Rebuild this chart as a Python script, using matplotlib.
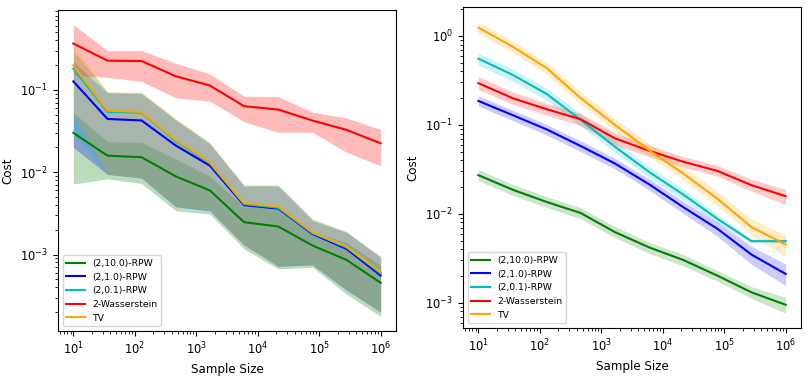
import numpy as np
import matplotlib
matplotlib.use("Agg")
import matplotlib.pyplot as plt

# Sample sizes (shared by both panels)
SAMPLE_SIZES = [10, 35.9, 129, 464, 1668, 5995, 21544, 77426, 278256, 1000000]

LABELS = ["(2,10.0)-RPW", "(2,1.0)-RPW", "(2,0.1)-RPW", "2-Wasserstein", "TV"]
COLORS = ["green", "blue", "c", "red", "orange"]

# Left panel: mean, lower and upper band
L_RPW10 = [0.030, 0.0159, 0.0152, 0.0089, 0.0060, 0.00247, 0.00219, 0.00129, 0.00086, 0.000453]
L_RPW10_LO = [0.0072, 0.0083, 0.0073, 0.0034, 0.0031, 0.00117, 0.00067, 0.0007, 0.00033, 0.000177]
L_RPW10_HI = [0.053, 0.0235, 0.023, 0.0144, 0.0089, 0.0038, 0.0037, 0.0019, 0.0014, 0.00073]

L_RPW1 = [0.127, 0.0444, 0.0425, 0.0211, 0.0120, 0.00397, 0.00362, 0.00178, 0.00117, 0.000556]
L_RPW1_LO = [0.02, 0.0094, 0.0085, 0.0038, 0.0034, 0.0013, 0.00072, 0.00075, 0.00037, 0.0002]
L_RPW1_HI = [0.22, 0.092, 0.090, 0.043, 0.022, 0.0068, 0.0068, 0.0026, 0.00185, 0.00093]

L_RPW01 = [0.182, 0.054, 0.053, 0.024, 0.0128, 0.0041, 0.0037, 0.00182, 0.00122, 0.00059]
L_RPW01_LO = [0.03, 0.0094, 0.0085, 0.0038, 0.0034, 0.0013, 0.00072, 0.00075, 0.00037, 0.0002]
L_RPW01_HI = [0.30, 0.094, 0.092, 0.044, 0.0225, 0.0069, 0.0069, 0.0027, 0.0019, 0.00094]

L_W2 = [0.366, 0.227, 0.224, 0.1466, 0.113, 0.0634, 0.0577, 0.0425, 0.0327, 0.0225]
L_W2_LO = [0.15, 0.1425, 0.127, 0.080, 0.0728, 0.0412, 0.0306, 0.0306, 0.0175, 0.012]
L_W2_HI = [0.622, 0.30, 0.30, 0.211, 0.156, 0.0838, 0.083, 0.0536, 0.0457, 0.033]

L_TV = [0.198, 0.056, 0.054, 0.0247, 0.0132, 0.0042, 0.00384, 0.00187, 0.00125, 0.00061]
L_TV_LO = [0.05, 0.0095, 0.0086, 0.0039, 0.0035, 0.0013, 0.00073, 0.00076, 0.00038, 0.0002]
L_TV_HI = [0.34, 0.095, 0.094, 0.045, 0.023, 0.0070, 0.0070, 0.0027, 0.0019, 0.00095]

# Right panel
R_RPW10 = [0.0272, 0.0187, 0.0136, 0.0102, 0.00623, 0.0042, 0.00303, 0.00202, 0.00131, 0.00095]
R_RPW10_LO = [0.0235, 0.0162, 0.0118, 0.0088, 0.0054, 0.0036, 0.0026, 0.00175, 0.00112, 0.00076]
R_RPW10_HI = [0.0315, 0.0215, 0.0156, 0.0117, 0.0072, 0.0048, 0.0035, 0.0023, 0.00152, 0.00115]

R_RPW1 = [0.186, 0.129, 0.089, 0.0578, 0.0368, 0.0215, 0.0119, 0.0068, 0.00348, 0.00211]
R_RPW1_LO = [0.162, 0.112, 0.077, 0.05, 0.032, 0.0185, 0.0101, 0.0056, 0.0027, 0.00156]
R_RPW1_HI = [0.212, 0.147, 0.101, 0.066, 0.042, 0.0247, 0.0138, 0.0081, 0.0043, 0.00273]

R_RPW01 = [0.555, 0.366, 0.223, 0.1136, 0.0568, 0.0296, 0.0165, 0.0088, 0.00493, 0.00493]
R_RPW01_LO = [0.47, 0.31, 0.19, 0.097, 0.049, 0.0255, 0.0143, 0.0079, 0.0047, 0.0047]
R_RPW01_HI = [0.645, 0.425, 0.26, 0.132, 0.066, 0.0342, 0.019, 0.0098, 0.0052, 0.0052]

R_W2 = [0.295, 0.20, 0.15, 0.1156, 0.0705, 0.0512, 0.0385, 0.0304, 0.021, 0.0158]
R_W2_LO = [0.25, 0.17, 0.128, 0.098, 0.06, 0.044, 0.0335, 0.0265, 0.018, 0.0127]
R_W2_HI = [0.35, 0.235, 0.175, 0.135, 0.082, 0.059, 0.044, 0.035, 0.0245, 0.0188]

R_TV = [1.24, 0.76, 0.435, 0.20, 0.10, 0.052, 0.0284, 0.0148, 0.0071, 0.00452]
R_TV_LO = [1.06, 0.65, 0.37, 0.17, 0.085, 0.044, 0.024, 0.0122, 0.0057, 0.0033]
R_TV_HI = [1.45, 0.88, 0.50, 0.235, 0.118, 0.062, 0.034, 0.018, 0.0088, 0.0058]


def plot_panel(ax, series, alpha):
    x = np.array(SAMPLE_SIZES)
    for (mean, lo, hi), label, color in zip(series, LABELS, COLORS):
        ax.plot(x, mean, color=color, lw=1.5, label=label)
        ax.fill_between(x, lo, hi, color=color, alpha=alpha, lw=0)
    ax.set_xscale("log")
    ax.set_yscale("log")
    ax.set_xlabel("Sample Size", fontsize=8.6)
    ax.set_ylabel("Cost", fontsize=8.6)
    ax.tick_params(labelsize=8.3)
    ax.legend(loc="lower left", fontsize=6.7)


def main():
    fig = plt.figure(figsize=(8.11, 3.77), dpi=100)
    ax_left = fig.add_axes([0.0715, 0.122, 0.4168, 0.8515])
    ax_right = fig.add_axes([0.5709, 0.130, 0.4168, 0.8515])

    plot_panel(ax_left, [
        (L_RPW10, L_RPW10_LO, L_RPW10_HI),
        (L_RPW1, L_RPW1_LO, L_RPW1_HI),
        (L_RPW01, L_RPW01_LO, L_RPW01_HI),
        (L_W2, L_W2_LO, L_W2_HI),
        (L_TV, L_TV_LO, L_TV_HI),
    ], alpha=0.27)
    plot_panel(ax_right, [
        (R_RPW10, R_RPW10_LO, R_RPW10_HI),
        (R_RPW1, R_RPW1_LO, R_RPW1_HI),
        (R_RPW01, R_RPW01_LO, R_RPW01_HI),
        (R_W2, R_W2_LO, R_W2_HI),
        (R_TV, R_TV_LO, R_TV_HI),
    ], alpha=0.2)

    fig.savefig("out.png")
    plt.close(fig)


if __name__ == "__main__":
    main()
